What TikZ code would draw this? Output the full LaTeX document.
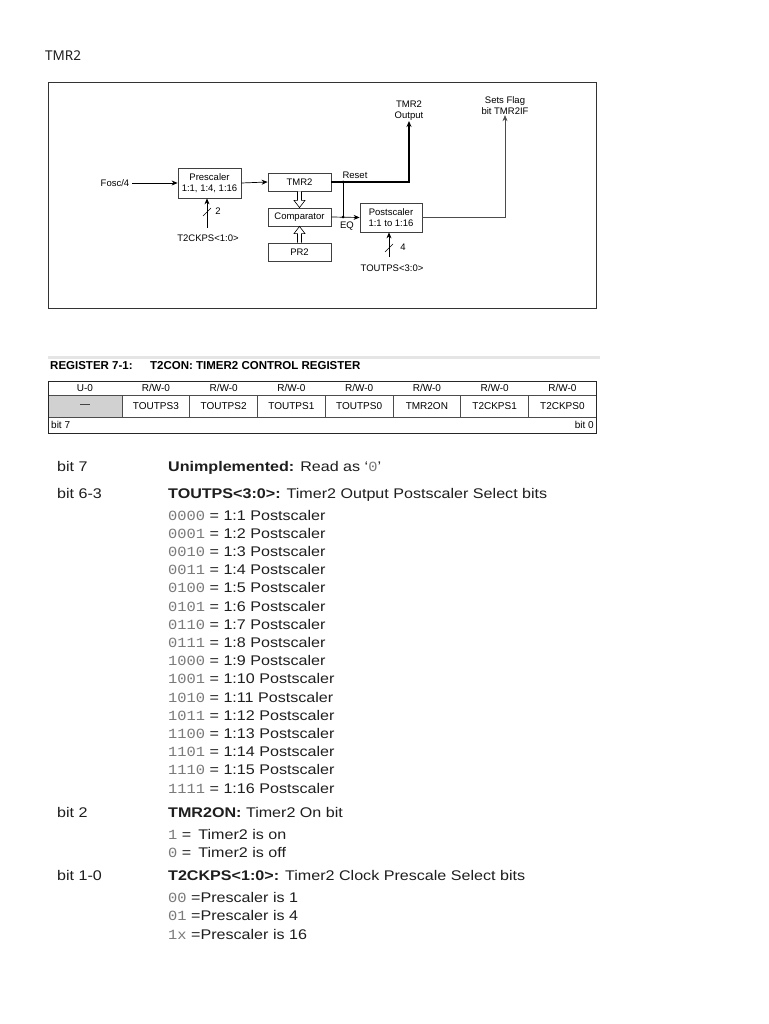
\documentclass[tikz,border=0pt]{standalone}
\usepackage{fontspec}
\setmainfont{Liberation Sans}
\newfontfamily\bodyfont[FakeStretch=1.15]{Liberation Sans}
\newfontfamily\notosans{Noto Sans}
\newfontfamily\codefont[FakeStretch=1.1]{Liberation Mono}
\usetikzlibrary{arrows.meta,calc,shadows}
\definecolor{codegray}{HTML}{7A7A7A}
\definecolor{txt}{HTML}{1E1E1E}
\newcommand{\cd}[1]{{\codefont\color{codegray}#1}}
\begin{document}
\begin{tikzpicture}[x=1pt,y=-1pt,
  blk/.style={draw=black!75, line width=0.8pt, fill=white, inner sep=1pt, align=center,
    font=\fontsize{9.5}{11.5}\selectfont,
    drop shadow={shadow xshift=0.9pt,shadow yshift=-0.9pt,fill=black!65,opacity=1}},
  lbl/.style={font=\fontsize{9.5}{11}\selectfont, inner sep=0pt, align=center},
  arr/.style={-{Stealth[length=6pt,width=5pt]}, line width=0.7pt},
  hollow/.style={draw=black, line width=0.6pt, fill=white},
  tcell/.style={font=\fontsize{10}{12}\selectfont, inner sep=0pt},
  body/.style={font=\bodyfont\fontsize{14}{16}\selectfont, text=txt, inner sep=0pt, anchor=base west}
]
\useasboundingbox (0,0) rectangle (768,1024);
\fill[white] (0,0) rectangle (768,1024);

% heading
\node[anchor=west, inner sep=0pt, font=\notosans\fontsize{13.5}{15}\selectfont, text=txt] (head) at (45,56) {TMR2};

% ---------- block diagram ----------
\draw[line width=0.9pt, draw=black!80] (48,82) rectangle (596,308);

\node[lbl] (fosc) at (115,183) {Fosc/4};
\node[blk, minimum width=63pt, minimum height=30pt] (pre) at (209.5,183) {Prescaler\\1:1, 1:4, 1:16};
\node[blk, minimum width=63pt, minimum height=18pt] (tmr) at (299.5,182) {TMR2};
\node[blk, minimum width=63pt, minimum height=18pt] (cmp) at (299.5,217) {Comparator};
\node[blk, minimum width=63pt, minimum height=18pt] (pr2) at (299.5,252) {PR2};
\node[blk, minimum width=62pt, minimum height=29pt] (post) at (391,217.5) {Postscaler\\1:1 to 1:16};

\node[lbl] (outl) at (409,111) {TMR2\\Output};
\node[lbl] (flagl) at (505,106) {Sets Flag\\bit TMR2IF};
\node[lbl] (resetl) at (355,175) {Reset};
\node[lbl] (eql) at (347,226) {EQ};
\node[lbl] (t2l) at (208,238) {T2CKPS<1:0>};
\node[lbl] (two) at (218,211) {2};
\node[lbl] (toutl) at (392,268) {TOUTPS<3:0>};
\node[lbl] (four) at (403,247) {4};

\coordinate (c1) at (207,228);
\coordinate (c2) at (389,257);
\coordinate (jr) at (343,182);
\coordinate (je) at (343,217);

\draw[arr] ([xshift=3pt]fosc.east) -- (pre.west);
\draw[arr] (pre.east) -- (tmr.west);
\draw[arr] (c1) -- (c1 |- pre.south);
\draw[line width=0.6pt] ($(c1)+(-4,-12)$) -- ($(c1)+(4,-20)$);
\draw[-{Stealth[length=6pt,width=5pt]}, line width=1.6pt] (tmr.east) -| (outl.south);
\draw[line width=0.7pt] (jr) -- (je);
\fill (jr) circle (1.5);
\fill (je) circle (1.5);
\draw[arr] (cmp.east) -- (post.west);
\draw[arr] (c2) -- (c2 |- post.south);
\draw[line width=0.6pt] ($(c2)+(-4,-5)$) -- ($(c2)+(4,-13)$);
\draw[arr, draw=black!70] (post.east) -| (flagl.south);

% hollow double arrows
\draw[hollow] ($(tmr.south)+(-2,0)$) -- ++(0,9) -- ++(-3.5,0) -- ($(cmp.north)$) -- ($(tmr.south)+(5.5,9)$) -- ++(-3.5,0) -- ($(tmr.south)+(2,0)$);
\draw[hollow] ($(pr2.north)+(-2,0)$) -- ++(0,-9) -- ++(-3.5,0) -- ($(cmp.south)$) -- ($(pr2.north)+(5.5,-9)$) -- ++(-3.5,0) -- ($(pr2.north)+(2,0)$);

% ---------- register ----------
\draw[black!10, line width=3pt] (48,357) -- (600,357);
\node[anchor=west, inner sep=0pt, font=\fontsize{11.5}{13}\selectfont\bfseries] (regno) at (50,366) {REGISTER 7-1:};
\node[anchor=west, inner sep=0pt, font=\fontsize{11.5}{13}\selectfont\bfseries] (regname) at (150,366) {T2CON: TIMER2 CONTROL REGISTER};

\fill[black!18] (48,395) rectangle (122,417);
\draw[black!70, line width=0.7pt] (48,395) -- (596.25,395);
\draw[black!70, line width=0.7pt] (48,417) -- (596.25,417);
\foreach \b in {122,189.75,257.5,325.25,393,460.75,528.5}
  \draw[black!70, line width=0.7pt] (\b,395) -- (\b,417);
\draw[black!85, line width=1pt] (48,381) rectangle (596.25,433);

\node[tcell] (a0) at (85,388) {U-0};
\node[tcell] (n0) at (85,406) {---};
\foreach \i/\n in {1/TOUTPS3,2/TOUTPS2,3/TOUTPS1,4/TOUTPS0,5/TMR2ON,6/T2CKPS1,7/T2CKPS0}{
  \node[tcell] (a\i) at ({122+67.75*(\i-0.5)},388) {R/W-0};
  \node[tcell] (n\i) at ({122+67.75*(\i-0.5)},406) {\n};
}
\node[tcell, anchor=west] (b7) at (51,425) {bit 7};
\node[tcell, anchor=east] (b0) at (594,425) {bit 0};

% ---------- bit descriptions ----------
\node[body] (l7) at (57,471) {bit 7};
\node[body] (d7) at (168,471) {\textbf{Unimplemented:} Read as ‘\cd{0}’};
\node[body] (l63) at (57,498) {bit 6-3};
\node[body] (d63) at (168,498) {\textbf{TOUTPS<3:0>:} Timer2 Output Postscaler Select bits};
\foreach \c/\r [count=\k from 0] in {0000/1,0001/2,0010/3,0011/4,0100/5,0101/6,0110/7,0111/8,1000/9,1001/10,1010/11,1011/12,1100/13,1101/14,1110/15,1111/16}
  \node[body] (p\k) at (168,{520+18.2*\k}) {\cd{\c} = 1:\r{} Postscaler};
\node[body] (l2) at (57,817) {bit 2};
\node[body] (d2) at (168,817) {\textbf{TMR2ON:} Timer2 On bit};
\node[body] (on) at (168,839) {\cd{1} =\enspace Timer2 is on};
\node[body] (off) at (168,857) {\cd{0} =\enspace Timer2 is off};
\node[body] (l10) at (57,880) {bit 1-0};
\node[body] (d10) at (168,880) {\textbf{T2CKPS<1:0>:} Timer2 Clock Prescale Select bits};
\node[body] (ps1) at (168,902) {\cd{00} =Prescaler is 1};
\node[body] (ps4) at (168,920) {\cd{01} =Prescaler is 4};
\node[body] (ps16) at (168,939) {\cd{1x} =Prescaler is 16};
\end{tikzpicture}
\end{document}
